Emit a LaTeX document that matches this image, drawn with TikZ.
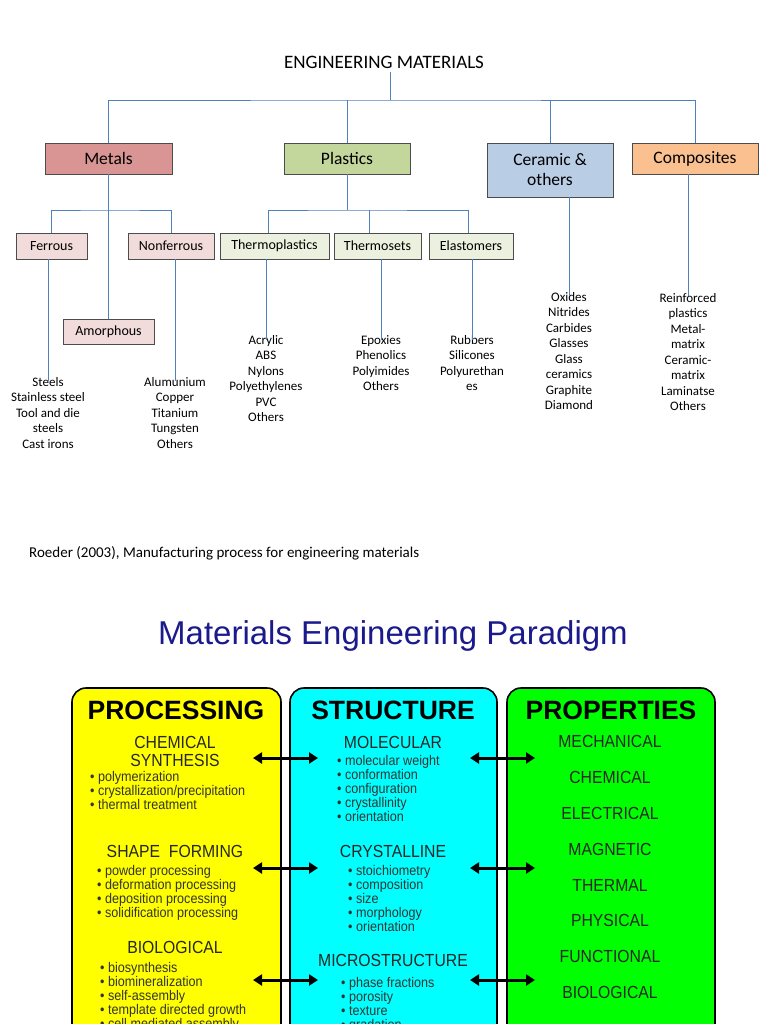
\documentclass[tikz,border=0pt]{standalone}
\usepackage{fontspec}
\setmainfont{Carlito}
\newfontfamily\arial{Liberation Sans}
\newfontfamily\arialn{Liberation Sans}[FakeStretch=0.9]
\usetikzlibrary{arrows.meta}
\definecolor{treeline}{HTML}{4F81BD}
\definecolor{metalc}{HTML}{D99594}
\definecolor{plastc}{HTML}{C3D69B}
\definecolor{ceramc}{HTML}{B9CDE5}
\definecolor{compc}{HTML}{FAC090}
\definecolor{metalsub}{HTML}{F2DCDB}
\definecolor{plastsub}{HTML}{EBF1DE}
\definecolor{titleblue}{HTML}{1A1A8C}
\definecolor{procc}{HTML}{FFFF00}
\definecolor{strucc}{HTML}{00FFFF}
\definecolor{propc}{HTML}{00FF00}
\begin{document}
\begin{tikzpicture}[x=1pt,y=-1pt,
  box/.style={draw=black!70,line width=0.8pt,inner sep=0pt,font=\fontsize{17.5}{19}\selectfont,align=center},
  sub/.style={draw=black!70,line width=0.8pt,inner sep=0pt,font=\fontsize{14}{15}\selectfont},
  list/.style={align=center,anchor=north,inner sep=0pt,font=\fontsize{13}{15.5}\selectfont},
  link/.style={treeline,line width=0.8pt},
  col/.style={draw=black,line width=1.6pt,rounded corners=14pt},
  head/.style={font=\arial\bfseries\fontsize{26.5}{28}\selectfont},
  cat/.style={font=\arialn\fontsize{17.5}{18}\selectfont,align=center,text=black!85},
  bul/.style={font=\arialn\fontsize{14}{14}\selectfont,align=left,anchor=north west,inner sep=0pt,text=black!80},
  dbl/.style={{Triangle[length=9pt,width=11pt]}-{Triangle[length=9pt,width=11pt]},line width=3pt}]
\useasboundingbox (0,0) rectangle (768,1024);
\fill[white] (0,0) rectangle (768,1024);

% ---------- engineering materials tree
\node[font=\fontsize{19}{20}\selectfont] (title) at (384,62) {ENGINEERING MATERIALS};
\coordinate (hub) at (390,100);
\node[box,fill=metalc,minimum width=127pt,minimum height=31pt] (metals) at (108.5,158.5) {Metals};
\node[box,fill=plastc,minimum width=126pt,minimum height=31pt] (plastics) at (347,158.5) {Plastics};
\node[box,fill=ceramc,minimum width=126pt,minimum height=54pt] (ceramic) at (550,170) {Ceramic \&\\[1pt]others};
\node[box,fill=compc,minimum width=126pt,minimum height=31pt] (comp) at (695,158.5) {Composites};
\draw[link] (title.south -| hub) -- (hub);
\draw[link] (metals.north) |- (hub) -| (comp.north);
\draw[link] (plastics.north) -- (plastics.north |- hub);
\draw[link] (ceramic.north) -- (ceramic.north |- hub);

\node[sub,fill=metalsub,minimum width=71pt,minimum height=26pt] (ferrous) at (51.5,246) {Ferrous};
\node[sub,fill=metalsub,minimum width=86pt,minimum height=26pt] (nonfer) at (171,246) {Nonferrous};
\node[sub,fill=metalsub,minimum width=91pt,minimum height=25pt] (amor) at (108.5,331.5) {Amorphous};
\node[sub,fill=plastsub,minimum width=109pt,minimum height=26pt] (thermop) at (274.5,246) {Thermoplastics};
\node[sub,fill=plastsub,minimum width=87pt,minimum height=26pt] (thermos) at (377.5,246) {Thermosets};
\node[sub,fill=plastsub,minimum width=84pt,minimum height=26pt] (elast) at (471,246) {Elastomers};
\coordinate (mj) at (108.5,210);
\coordinate (pj) at (347,210);
\draw[link] (metals.south) -- (amor.north);
\draw[link] (ferrous.north) |- (mj) -| (nonfer.north);
\draw[link] (plastics.south) -- (pj);
\draw[link] ([xshift=-6pt]thermop.north) |- (pj) -| ([xshift=-3pt]elast.north);
\draw[link] ([xshift=-8pt]thermos.north) -- ([xshift=-8pt]thermos.north |- pj);

\node[list] (l1) at (48,377) {Steels\\Stainless steel\\Tool and die\\steels\\Cast irons};
\node[list] (l2) at (175,377) {Alumunium\\Copper\\Titanium\\Tungsten\\Others};
\node[list] (l3) at (266,335) {Acrylic\\ABS\\Nylons\\Polyethylenes\\PVC\\Others};
\node[list] (l4) at (381,335) {Epoxies\\Phenolics\\Polyimides\\Others};
\node[list] (l5) at (472,335) {Rubbers\\Silicones\\Polyurethan\\es};
\node[list] (l6) at (569,292) {Oxides\\Nitrides\\Carbides\\Glasses\\Glass\\ceramics\\Graphite\\Diamond};
\node[list] (l7) at (688,293) {Reinforced\\plastics\\Metal-\\matrix\\Ceramic-\\matrix\\Laminatse\\Others};
\draw[link] (ferrous.south -| l1.north) -- ([yshift=-4pt]l1.north);
\draw[link] (nonfer.south -| l2.north) -- ([yshift=-4pt]l2.north);
\draw[link] (thermop.south -| l3.north) -- ([yshift=-5pt]l3.north);
\draw[link] (thermos.south -| l4.north) -- ([yshift=-5pt]l4.north);
\draw[link] (elast.south -| l5.north) -- ([yshift=-5pt]l5.north);
\draw[link] (ceramic.south -| l6.north) -- ([yshift=-4pt]l6.north);
\draw[link] (comp.south -| l7.north) -- ([yshift=-3pt]l7.north);

\node[anchor=west,font=\fontsize{15}{16}\selectfont,inner sep=0pt] (cite) at (29,553) {Roeder (2003), Manufacturing process for engineering materials};

% ---------- paradigm
\node[font=\arial\fontsize{33}{36}\selectfont,text=titleblue] (ptitle) at (393,636) {Materials Engineering Paradigm};
\begin{scope}
\clip (0,0) rectangle (768,1024);
\draw[col,fill=procc] (72,1060) -- (72,688) -- (281,688) -- (281,1060);
\draw[col,fill=strucc] (290,1060) -- (290,688) -- (497,688) -- (497,1060);
\draw[col,fill=propc] (507,1060) -- (507,688) -- (715,688) -- (715,1060);

\node[head] (hp) at (176,710) {PROCESSING};
\node[head] (hs) at (393,710) {STRUCTURE};
\node[head] (hq) at (611,710) {PROPERTIES};

\node[cat] (chem) at (175,751) {CHEMICAL\\SYNTHESIS};
\node[bul] at (90,771) {\textbullet\ polymerization\\ \textbullet\ crystallization/precipitation\\ \textbullet\ thermal treatment};
\node[cat] (shape) at (175,851) {SHAPE\ \ FORMING};
\node[bul] at (97,865) {\textbullet\ powder processing\\ \textbullet\ deformation processing\\ \textbullet\ deposition processing\\ \textbullet\ solidification processing};
\node[cat] (bio) at (175,947) {BIOLOGICAL};
\node[bul] at (100,962) {\textbullet\ biosynthesis\\ \textbullet\ biomineralization\\ \textbullet\ self-assembly\\ \textbullet\ template directed growth\\ \textbullet\ cell mediated assembly};

\node[cat] (mol) at (393,742) {MOLECULAR};
\node[bul] at (337,755) {\textbullet\ molecular weight\\ \textbullet\ conformation\\ \textbullet\ configuration\\ \textbullet\ crystallinity\\ \textbullet\ orientation};
\node[cat] (cry) at (393,851) {CRYSTALLINE};
\node[bul] at (348,865) {\textbullet\ stoichiometry\\ \textbullet\ composition\\ \textbullet\ size\\ \textbullet\ morphology\\ \textbullet\ orientation};
\node[cat] (micro) at (393,960) {MICROSTRUCTURE};
\node[bul] at (341,977) {\textbullet\ phase fractions\\ \textbullet\ porosity\\ \textbullet\ texture\\ \textbullet\ gradation};

\foreach \t [count=\i] in {MECHANICAL,CHEMICAL,ELECTRICAL,MAGNETIC,THERMAL,PHYSICAL,FUNCTIONAL,BIOLOGICAL}
  \node[cat] (p\i) at (610,706+35.8*\i) {\t};

\coordinate (a1) at (253,758); \coordinate (b1) at (318,758);
\coordinate (c1) at (470,758); \coordinate (d1) at (535,758);
\coordinate (a2) at (253,868); \coordinate (b2) at (318,868);
\coordinate (c2) at (470,868); \coordinate (d2) at (535,868);
\coordinate (a3) at (253,980); \coordinate (b3) at (318,980);
\coordinate (c3) at (470,980); \coordinate (d3) at (535,980);
\foreach \i in {1,2,3} {
  \draw[dbl] (a\i) -- (b\i);
  \draw[dbl] (c\i) -- (d\i);
}
\end{scope}
\end{tikzpicture}
\end{document}
